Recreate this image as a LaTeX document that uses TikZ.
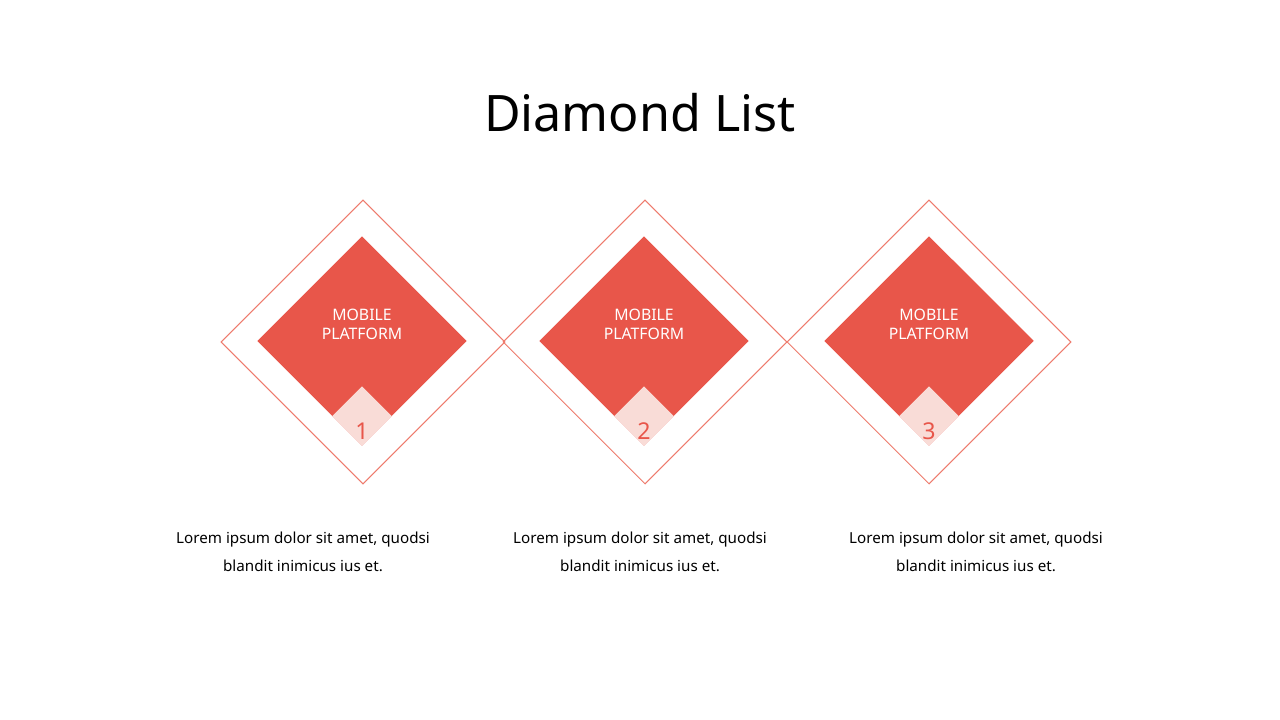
\documentclass[tikz,border=0pt]{standalone}
\usepackage{fontspec}
\setmainfont{Noto Sans}
\usetikzlibrary{shapes.geometric}
\definecolor{tomato}{HTML}{E8564A}
\definecolor{rim}{HTML}{EE7B6D}
\definecolor{blush}{HTML}{F9DCD7}
\tikzset{
  frame/.style={diamond,draw=rim,line width=0.3pt,minimum width=2.84cm,minimum height=2.84cm,inner sep=0pt},
  core/.style={diamond,fill=tomato,minimum width=2.1cm,minimum height=2.1cm,inner sep=0pt},
  tip/.style={diamond,fill=blush,minimum width=0.6cm,minimum height=0.6cm,inner sep=0pt},
  caption/.style={text=white,align=center,font=\fontsize{4.5}{5.4}\selectfont},
  number/.style={text=tomato,font=\fontsize{6.6}{7}\selectfont},
  blurb/.style={align=center,font=\fontsize{4.32}{7.9}\selectfont}
}
\begin{document}
\begin{tikzpicture}
\useasboundingbox[fill=white] (0,0) rectangle (12.8,7.2);
\node[font=\fontsize{14.3}{17}\selectfont] (title) at (6.4,6.07) {Diamond List};
% first diamond
\node[frame] (frame1) at (3.63,3.78) {};
\node[core] (core1) at (3.62,3.79) {};
\node[tip] (tip1) at (3.62,3.04) {};
\node[caption] (cap1) at (3.62,3.96) {MOBILE\\PLATFORM};
\node[number] (num1) at (3.62,2.89) {1};
\node[blurb] (text1) at (3.03,1.68) {Lorem ipsum dolor sit amet, quodsi\\blandit inimicus ius et.};
% second diamond
\node[frame] (frame2) at (6.45,3.78) {};
\node[core] (core2) at (6.44,3.79) {};
\node[tip] (tip2) at (6.44,3.04) {};
\node[caption] (cap2) at (6.44,3.96) {MOBILE\\PLATFORM};
\node[number] (num2) at (6.44,2.89) {2};
\node[blurb] (text2) at (6.40,1.68) {Lorem ipsum dolor sit amet, quodsi\\blandit inimicus ius et.};
% third diamond
\node[frame] (frame3) at (9.29,3.78) {};
\node[core] (core3) at (9.29,3.79) {};
\node[tip] (tip3) at (9.29,3.04) {};
\node[caption] (cap3) at (9.29,3.96) {MOBILE\\PLATFORM};
\node[number] (num3) at (9.29,2.89) {3};
\node[blurb] (text3) at (9.76,1.68) {Lorem ipsum dolor sit amet, quodsi\\blandit inimicus ius et.};
\end{tikzpicture}
\end{document}
